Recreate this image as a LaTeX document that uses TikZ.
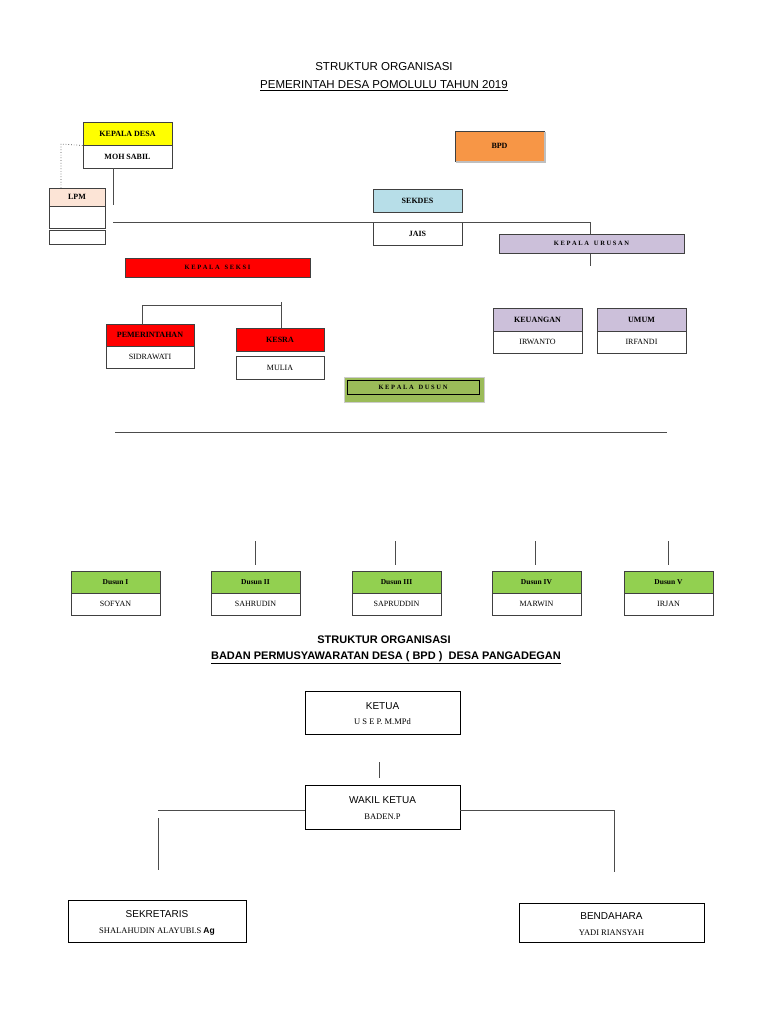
\documentclass[tikz,border=0pt]{standalone}
\usepackage{fontspec}
\setmainfont{Liberation Serif}
\newfontfamily\sans{Liberation Sans}
\definecolor{kyel}{RGB}{255,255,0}
\definecolor{kpeach}{RGB}{252,228,214}
\definecolor{kblue}{RGB}{183,222,232}
\definecolor{korange}{RGB}{247,150,70}
\definecolor{klav}{RGB}{204,192,218}
\definecolor{kred}{RGB}{255,0,0}
\definecolor{kgreen}{RGB}{146,208,80}
\definecolor{kdgreen}{RGB}{155,187,89}
\tikzset{
 bx/.style={draw=black!75,line width=0.9pt,fill=#1,inner sep=0pt,font=\bfseries\fontsize{8}{9}\selectfont},
 wb/.style={draw=black!75,line width=0.9pt,fill=white,inner sep=0pt,font=\fontsize{8}{9}\selectfont},
 big/.style={draw=black,line width=0.9pt,fill=white,inner sep=0pt,align=center},
 ln/.style={draw=black!70,line width=0.9pt}
}
\begin{document}
\begin{tikzpicture}[x=1pt,y=-1pt]
\useasboundingbox (0,0) rectangle (768,1024);
\node[font=\sans\fontsize{11.5}{13}\selectfont] (t1) at (384,67) {STRUKTUR ORGANISASI};
\node[font=\sans\fontsize{11.5}{13}\selectfont] (t2) at (384,86) {\underline{PEMERINTAH DESA POMOLULU TAHUN 2019}};
% Kepala desa
\node[bx=kyel,minimum width=89pt,minimum height=23pt] (kd) at (127.5,133.5) {KEPALA DESA};
\node[wb,minimum width=89pt,minimum height=23pt,font=\bfseries\fontsize{8}{9}\selectfont] (kdn) at (127.5,156.5) {MOH SABIL};
% LPM
\node[bx=kpeach,minimum width=56pt,minimum height=18pt] (lpm) at (77,197) {LPM};
\node[wb,minimum width=56pt,minimum height=22pt] (lpm2) at (77,217) {};
\node[wb,minimum width=56pt,minimum height=14pt] (lpm3) at (77,237) {};
\coordinate (dc) at (61,144);
\draw[ln,line width=0.7pt,dotted] (kd.south west) -- (dc) -- (lpm.north -| dc);
% BPD
\node[bx=korange,minimum width=89pt,minimum height=30pt,drop shadow/.style={}] (bpd) at (499.5,146) {BPD};
\draw[black!25,line width=1.2pt] (545,132) -- (545,162) -- (456,162);
% Sekdes
\node[bx=kblue,minimum width=89pt,minimum height=23pt] (sek) at (417.5,200.5) {SEKDES};
\node[wb,minimum width=89pt,minimum height=23pt,font=\bfseries\fontsize{8}{9}\selectfont] (jais) at (417.5,233.5) {JAIS};
\coordinate (j1) at (113,205);
\coordinate (h1) at (113,222);
\coordinate (h2) at (590,222);
\coordinate (h3) at (590,266);
\draw[ln] (kdn.south -| j1) -- (j1);
\draw[ln] (h1) -- (h2) -- (h3);
% Kepala urusan
\node[bx=klav,minimum width=185pt,minimum height=19pt,font=\bfseries\fontsize{6.5}{8}\selectfont] (ku) at (591.5,243.5) {K E P A L A \ \ U R U S A N};
\node[bx=klav,minimum width=89pt,minimum height=23pt] (keu) at (537.5,319.5) {KEUANGAN};
\node[wb,minimum width=89pt,minimum height=22pt] (irw) at (537.5,342) {IRWANTO};
\node[bx=klav,minimum width=89pt,minimum height=23pt] (umum) at (641.5,319.5) {UMUM};
\node[wb,minimum width=89pt,minimum height=22pt] (irf) at (641.5,342) {IRFANDI};
% Kepala seksi
\node[bx=kred,minimum width=185pt,minimum height=19pt,font=\bfseries\fontsize{6.5}{8}\selectfont] (ks) at (217.5,267.5) {K E P A L A \ \ S E K S I};
\node[bx=kred,minimum width=88pt,minimum height=22pt] (pem) at (150,335) {PEMERINTAHAN};
\node[wb,minimum width=88pt,minimum height=22pt] (sid) at (150,357) {SIDRAWATI};
\node[bx=kred,minimum width=88pt,minimum height=23pt] (kes) at (280,339.5) {KESRA};
\node[wb,minimum width=88pt,minimum height=23pt] (mul) at (280,367.5) {MULIA};
\coordinate (s1) at (142,305);
\coordinate (s2) at (281,305);
\coordinate (s0) at (281,302);
\draw[ln] (pem.north -| s1) -- (s1) -- (s2);
\draw[ln] (s0) -- (kes.north -| s0);
% Kepala dusun
\node[draw=black!20,fill=kdgreen,minimum width=140pt,minimum height=25pt,inner sep=0pt] (kdu) at (414,389.5) {};
\node[draw=black,line width=0.9pt,minimum width=132pt,minimum height=14pt,inner sep=0pt,font=\bfseries\fontsize{6.5}{8}\selectfont] (kdu2) at (413,387) {K E P A L A \ \ D U S U N};
\coordinate (l1) at (115,432);
\coordinate (l2) at (667,432);
\draw[ln] (l1) -- (l2);
% Dusun
\foreach \n/\cx/\lab/\nm in {1/115.5/Dusun I/SOFYAN,2/255.5/Dusun II/SAHRUDIN,3/396.5/Dusun III/SAPRUDDIN,4/536.5/Dusun IV/MARWIN,5/668.5/Dusun V/IRJAN}{
 \node[bx=kgreen,minimum width=89pt,minimum height=22pt,font=\bfseries\fontsize{7.5}{9}\selectfont] (du\n) at (\cx,582) {\lab};
 \node[wb,minimum width=89pt,minimum height=22pt] (dn\n) at (\cx,604) {\nm};
}
\foreach \n/\x in {2/255,3/395,4/535,5/668}{
 \coordinate (dt\n) at (\x,541);
 \coordinate (db\n) at (\x,565);
 \draw[ln] (dt\n) -- (db\n);
}
% BPD structure
\node[font=\sans\bfseries\fontsize{11}{13}\selectfont] (t3) at (384,640) {STRUKTUR ORGANISASI};
\node[font=\sans\bfseries\fontsize{11}{13}\selectfont] (t4) at (386,658) {\underline{BADAN PERMUSYAWARATAN DESA ( BPD )\ \ DESA PANGADEGAN}};
\node[big,minimum width=155pt,minimum height=43pt] (ket) at (382.5,712.5) {};
\node[font=\sans\fontsize{10}{12}\selectfont] at (382.5,706) {KETUA};
\node[font=\fontsize{8.5}{10}\selectfont] at (382.5,722) {U S E P. M.MPd};
\node[big,minimum width=155pt,minimum height=44pt] (wak) at (382.5,807) {};
\node[font=\sans\fontsize{10}{12}\selectfont] at (382.5,800) {WAKIL KETUA};
\node[font=\fontsize{8.5}{10}\selectfont] at (382.5,817) {BADEN.P};
\coordinate (v1) at (379,762);
\coordinate (v2) at (379,778);
\draw[ln] (v1) -- (v2);
\coordinate (wl) at (158,810);
\coordinate (wr) at (614,810);
\coordinate (sl) at (158,870);
\coordinate (sr) at (614,872);
\draw[ln] (wak.west |- wl) -- (wl);
\draw[ln] (wak.east |- wr) -- (wr) -- (sr);
\coordinate (wl2) at (158,818);
\draw[ln] (wl2) -- (sl);
\node[big,minimum width=178pt,minimum height=42pt] (sekr) at (157,921) {};
\node[font=\sans\fontsize{10}{12}\selectfont] at (157,914) {SEKRETARIS};
\node[font=\fontsize{8.5}{10}\selectfont] at (157,931) {SHALAHUDIN ALAYUBI.S {\sans\bfseries Ag}};
\node[big,minimum width=185pt,minimum height=39pt] (bend) at (611.5,922.5) {};
\node[font=\sans\fontsize{10}{12}\selectfont] at (611.5,916) {BENDAHARA};
\node[font=\fontsize{8.5}{10}\selectfont] at (611.5,933) {YADI RIANSYAH};
\end{tikzpicture}
\end{document}
